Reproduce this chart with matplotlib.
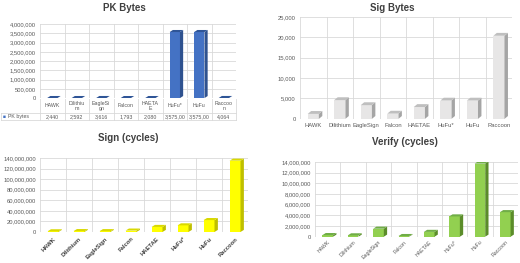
import numpy as np
import matplotlib
matplotlib.use("Agg")
import matplotlib.pyplot as plt
from matplotlib.patches import Polygon

plt.rcParams["font.family"] = ["Liberation Sans", "DejaVu Sans"]

schemes = ["HAWK", "Dilithium", "EagleSign", "Falcon", "HAETAE", "HuFu*", "HuFu", "Raccoon"]
pk_cells = ["HAWK", "Dilithiu\nm", "EagleSi\ngn", "Falcon", "HAETA\nE", "HuFu*", "HuFu", "Raccoo\nn"]

pk_bytes = [2440, 2592, 3616, 1793, 2080, 3575000, 3575000, 4064]
sig_bytes = [1221, 4595, 3366, 1280, 2908, 4480, 4480, 20362]
sign_cycles = [1200000, 1600000, 1500000, 2600000, 9500000, 12500000, 22500000, 135000000]
verify_cycles = [300000, 250000, 1500000, 120000, 900000, 3800000, 13700000, 4600000]

GRID = "#d9d9d9"
TICK = "#595959"


def bars3d(ax, vals, ymax, front, side, top, w=0.42):
    dx = 0.13
    dy = 0.028 * ymax
    x = np.arange(len(vals))
    ax.bar(x, vals, width=w, color=front, zorder=3, linewidth=0)
    for i, v in zip(x, vals):
        r = i + w / 2
        l = i - w / 2
        ax.add_patch(Polygon([(r, 0), (r + dx, dy), (r + dx, v + dy), (r, v)],
                             closed=True, fc=side, ec="none", zorder=3))
        ax.add_patch(Polygon([(l, v), (l + dx, v + dy), (r + dx, v + dy), (r, v)],
                             closed=True, fc=top, ec="none", zorder=3))


def setup(ax, ymax, step, fs=4.2):
    n = len(schemes)
    ax.set_xlim(-0.5, n - 0.5)
    ax.set_ylim(0, ymax)
    ax.set_yticks(np.arange(0, ymax + 1, step))
    ax.yaxis.set_major_formatter(matplotlib.ticker.FuncFormatter(lambda v, p: f"{int(v):,}"))
    ax.tick_params(axis="y", length=0, labelsize=fs, colors=TICK, pad=3)
    ax.tick_params(axis="x", length=0)
    ax.grid(axis="y", color=GRID, linewidth=0.6, zorder=0)
    for b in np.arange(-0.5, n, 1.0):
        ax.axvline(b, color=GRID, linewidth=0.6, zorder=0)
    for s in ax.spines.values():
        s.set_visible(False)


fig = plt.figure(figsize=(5.2, 2.63), dpi=100)
fig.patch.set_facecolor("white")

# PK Bytes with data table
ax1 = fig.add_axes([0.077, 0.627, 0.377, 0.281])
setup(ax1, 4000000, 500000)
bars3d(ax1, pk_bytes, 4000000, "#4472c4", "#2f528f", "#2f5597")
ax1.set_xticks([])
n = len(schemes)
y0, y1, y2 = -0.01, -0.2, -0.3
for j in range(n + 1):
    ax1.plot([j / n, j / n], [y0, y2], color=GRID, lw=0.6, transform=ax1.transAxes, clip_on=False)
for yy in (y1, y2):
    ax1.plot([-0.2, 1], [yy, yy], color=GRID, lw=0.6, transform=ax1.transAxes, clip_on=False)
ax1.plot([-0.2, -0.2], [y1, y2], color=GRID, lw=0.6, transform=ax1.transAxes, clip_on=False)
for j, (lab, v) in enumerate(zip(pk_cells, pk_bytes)):
    xc = (j + 0.5) / n
    ax1.text(xc, (y0 + y1) / 2, lab, ha="center", va="center", fontsize=3.8, color=TICK,
             transform=ax1.transAxes, linespacing=1.1)
    ax1.text(xc, (y1 + y2) / 2, f"{v:,}"[:8], ha="center", va="center", fontsize=3.8, color=TICK,
             transform=ax1.transAxes)
ax1.text(-0.19, (y1 + y2) / 2, "\u25a0", color="#4472c4", fontsize=3.5, ha="left", va="center",
         transform=ax1.transAxes)
ax1.text(-0.165, (y1 + y2) / 2, "PK bytes", color=TICK, fontsize=3.8, ha="left", va="center",
         transform=ax1.transAxes)
fig.text(0.24, 0.968, "PK Bytes", ha="center", va="center", fontsize=7, fontweight="bold", color="#404040")

# Sig Bytes
ax2 = fig.add_axes([0.577, 0.548, 0.408, 0.388])
setup(ax2, 25000, 5000)
bars3d(ax2, sig_bytes, 25000, "#e7e6e6", "#a5a5a5", "#bfbfbf")
ax2.set_xticks(np.arange(n))
ax2.set_xticklabels(schemes, fontsize=4.2, color=TICK)
ax2.tick_params(axis="x", pad=3)
fig.text(0.755, 0.968, "Sig Bytes", ha="center", va="center", fontsize=7, fontweight="bold", color="#404040")

# Sign (cycles)
ax3 = fig.add_axes([0.077, 0.118, 0.4, 0.281])
setup(ax3, 140000000, 20000000)
bars3d(ax3, sign_cycles, 140000000, "#ffff00", "#bfbf00", "#d9d900")
ax3.set_xticks(np.arange(n))
ax3.set_xticklabels(schemes, fontsize=4.2, color="#404040", rotation=45, ha="right",
                    rotation_mode="anchor", fontweight="bold")
ax3.tick_params(axis="x", pad=3)
fig.text(0.246, 0.475, "Sign (cycles)", ha="center", va="center", fontsize=7, fontweight="bold", color="#404040")

# Verify (cycles)
ax4 = fig.add_axes([0.606, 0.1, 0.39, 0.284])
setup(ax4, 14000000, 2000000)
bars3d(ax4, verify_cycles, 14000000, "#92d050", "#5b8c2a", "#70ad47")
ax4.set_xticks(np.arange(n))
ax4.set_xticklabels(schemes, fontsize=3.8, color=TICK, rotation=45, ha="right",
                    rotation_mode="anchor")
ax4.tick_params(axis="x", pad=2)
fig.text(0.778, 0.46, "Verify (cycles)", ha="center", va="center", fontsize=7, fontweight="bold", color="#404040")

fig.savefig("out.png", dpi=100)
